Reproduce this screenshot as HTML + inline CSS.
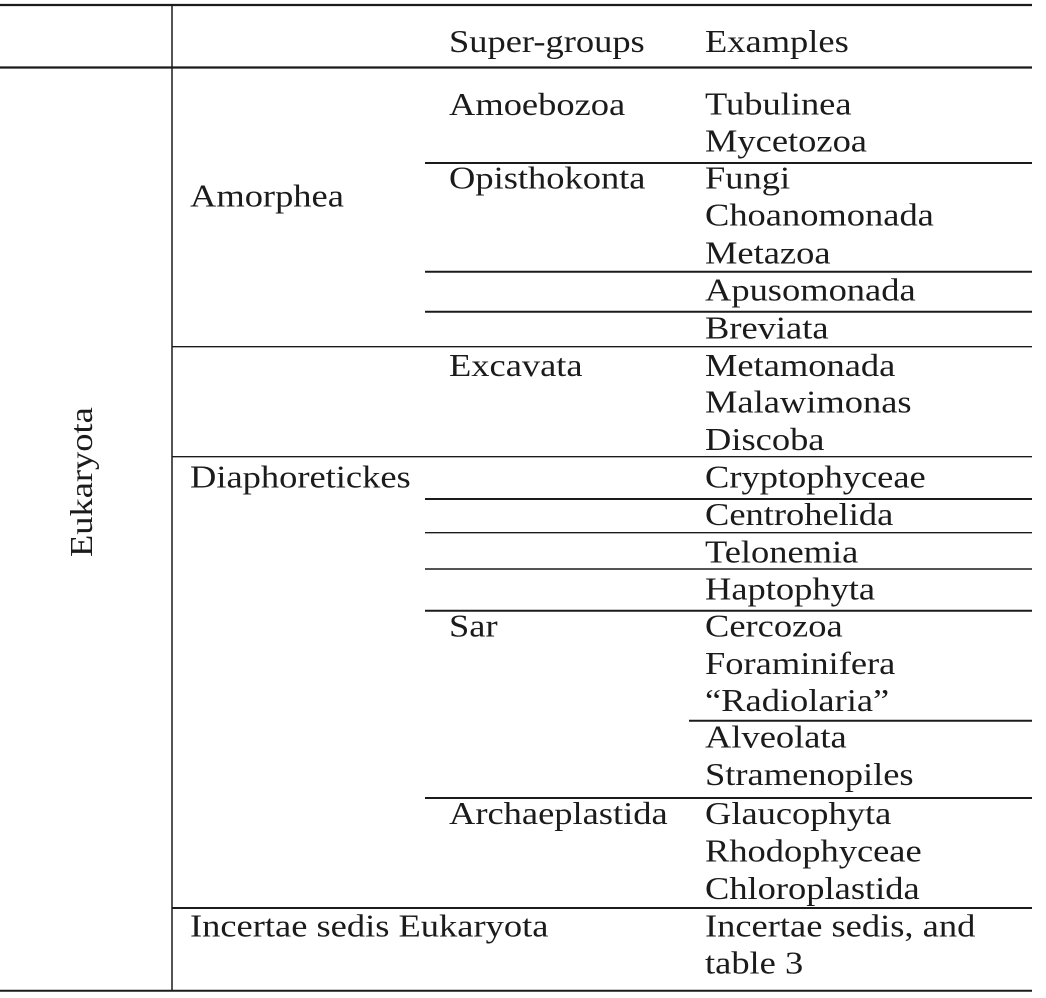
<!DOCTYPE html>
<html>
<head>
<meta charset="utf-8">
<style>
  html, body { margin: 0; padding: 0; background: #ffffff; }
  body { width: 1046px; height: 998px; overflow: hidden; }
  svg { display: block; }
  text { font-family: "Liberation Serif", "DejaVu Serif", serif; font-size: 32px; fill: #1b1b1b; }
</style>
</head>
<body>
<svg width="1046" height="998" viewBox="0 0 1046 998" xmlns="http://www.w3.org/2000/svg">
  <rect x="0" y="0" width="1046" height="998" fill="#ffffff"/>
  <g stroke="#1b1b1b" fill="none">
    <line x1="0" y1="5" x2="1032" y2="5" stroke-width="2.2"/>
    <line x1="0" y1="67.5" x2="1032" y2="67.5" stroke-width="2.2"/>
    <line x1="172" y1="5" x2="172" y2="991" stroke-width="1.5"/>
    <line x1="425" y1="163" x2="1032" y2="163" stroke-width="2"/>
    <line x1="425" y1="271.7" x2="1032" y2="271.7" stroke-width="2"/>
    <line x1="425" y1="311.7" x2="1032" y2="311.7" stroke-width="2"/>
    <line x1="172" y1="346.7" x2="1032" y2="346.7" stroke-width="1.4"/>
    <line x1="172" y1="456.7" x2="1032" y2="456.7" stroke-width="1.4"/>
    <line x1="425" y1="499" x2="1032" y2="499" stroke-width="2"/>
    <line x1="425" y1="532.7" x2="1032" y2="532.7" stroke-width="1.4"/>
    <line x1="425" y1="569" x2="1032" y2="569" stroke-width="1.4"/>
    <line x1="425" y1="610.7" x2="1032" y2="610.7" stroke-width="2"/>
    <line x1="689" y1="720.7" x2="1032" y2="720.7" stroke-width="2"/>
    <line x1="425" y1="798" x2="1032" y2="798" stroke-width="2"/>
    <line x1="172" y1="908" x2="1032" y2="908" stroke-width="2"/>
    <line x1="0" y1="990.7" x2="1032" y2="990.7" stroke-width="2"/>
  </g>

  <!-- header -->
  <text transform="translate(449,52) scale(1.14,1)">Super-groups</text>
  <text transform="translate(705,52) scale(1.14,1)">Examples</text>

  <!-- rotated Eukaryota -->
  <text transform="translate(92,557) rotate(-90) scale(1.14,1)">Eukaryota</text>

  <!-- second column -->
  <text transform="translate(190,206.7) scale(1.14,1)">Amorphea</text>
  <text transform="translate(190,487.5) scale(1.14,1)">Diaphoretickes</text>
  <text transform="translate(190,936.7) scale(1.14,1)">Incertae sedis Eukaryota</text>

  <!-- super-groups -->
  <text transform="translate(449,115) scale(1.14,1)">Amoebozoa</text>
  <text transform="translate(449,188.3) scale(1.14,1)">Opisthokonta</text>
  <text transform="translate(449,376) scale(1.14,1)">Excavata</text>
  <text transform="translate(449,636.7) scale(1.14,1)">Sar</text>
  <text transform="translate(449,824) scale(1.14,1)">Archaeplastida</text>

  <!-- examples -->
  <text transform="translate(705,114.5) scale(1.14,1)">Tubulinea</text>
  <text transform="translate(705,151.7) scale(1.14,1)">Mycetozoa</text>
  <text transform="translate(705,188.3) scale(1.14,1)">Fungi</text>
  <text transform="translate(705,225.7) scale(1.14,1)">Choanomonada</text>
  <text transform="translate(705,263.3) scale(1.14,1)">Metazoa</text>
  <text transform="translate(705,300.7) scale(1.14,1)">Apusomonada</text>
  <text transform="translate(705,338.3) scale(1.14,1)">Breviata</text>
  <text transform="translate(705,376) scale(1.14,1)">Metamonada</text>
  <text transform="translate(705,412.7) scale(1.14,1)">Malawimonas</text>
  <text transform="translate(705,450) scale(1.14,1)">Discoba</text>
  <text transform="translate(705,487.3) scale(1.14,1)">Cryptophyceae</text>
  <text transform="translate(705,525) scale(1.14,1)">Centrohelida</text>
  <text transform="translate(705,562.5) scale(1.14,1)">Telonemia</text>
  <text transform="translate(705,599.5) scale(1.14,1)">Haptophyta</text>
  <text transform="translate(705,636.7) scale(1.14,1)">Cercozoa</text>
  <text transform="translate(705,674) scale(1.14,1)">Foraminifera</text>
  <text transform="translate(705,711) scale(1.14,1)">“Radiolaria”</text>
  <text transform="translate(705,747.7) scale(1.14,1)">Alveolata</text>
  <text transform="translate(705,785) scale(1.14,1)">Stramenopiles</text>
  <text transform="translate(705,824) scale(1.14,1)">Glaucophyta</text>
  <text transform="translate(705,861.7) scale(1.14,1)">Rhodophyceae</text>
  <text transform="translate(705,899) scale(1.14,1)">Chloroplastida</text>
  <text transform="translate(705,936.7) scale(1.14,1)">Incertae sedis, and</text>
  <text transform="translate(705,973.3) scale(1.14,1)">table 3</text>
</svg>
</body>
</html>
